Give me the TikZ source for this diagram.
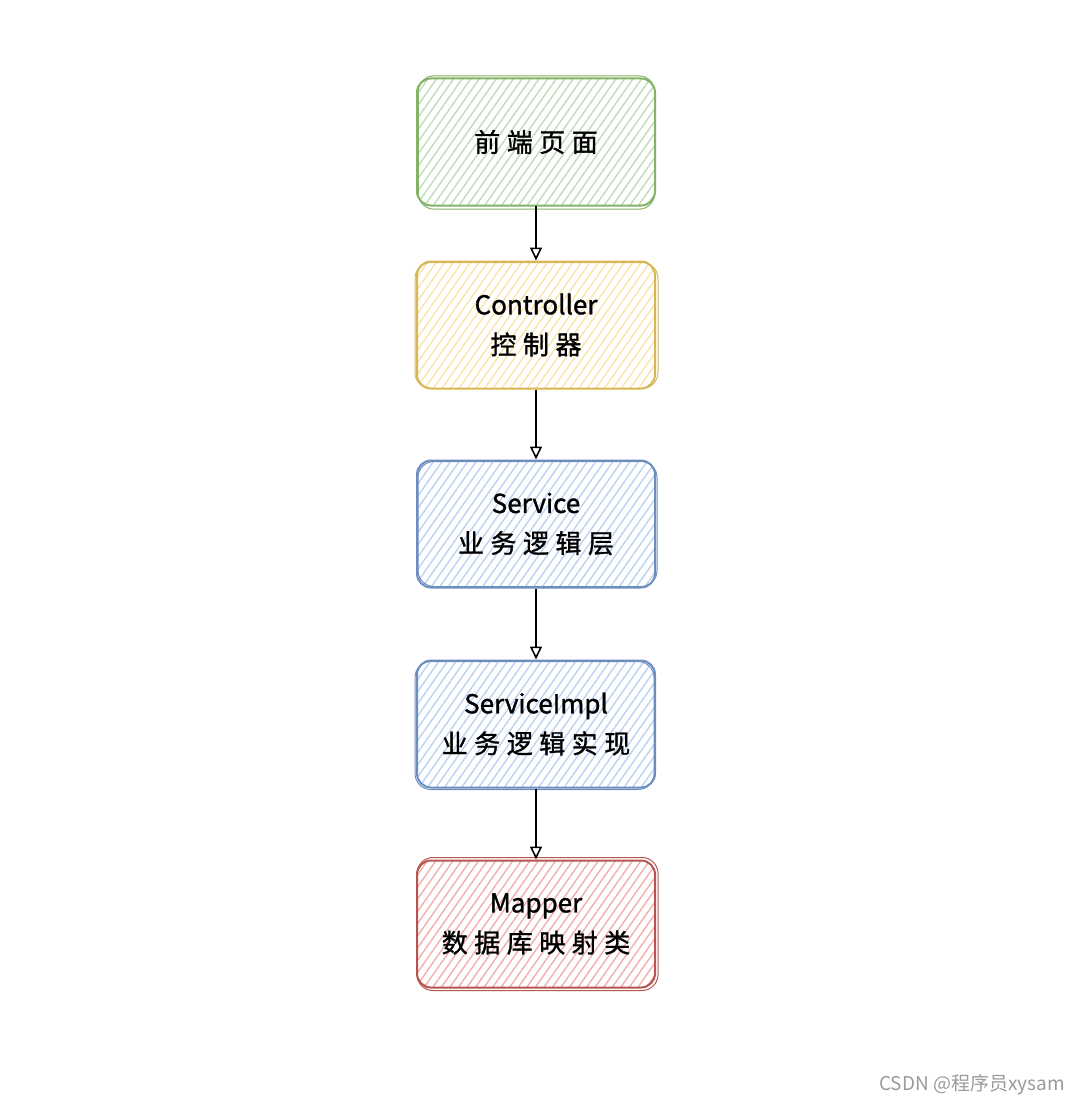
\documentclass[tikz,border=0pt]{standalone}
\usepackage{fontspec}
\setmainfont{Noto Sans CJK SC}
\newfontfamily\cjk[FakeBold=1.2]{Noto Sans CJK SC}
\newfontfamily\wmfont{Noto Sans CJK SC}
\usetikzlibrary{arrows.meta,patterns.meta}
\definecolor{gstroke}{HTML}{82B366}\definecolor{gfill}{HTML}{BEDDB8}
\definecolor{ystroke}{HTML}{D6B656}\definecolor{yfill}{HTML}{FBE3A8}
\definecolor{bstroke}{HTML}{6C8EBF}\definecolor{bfill}{HTML}{BAD3F4}
\definecolor{rstroke}{HTML}{B85450}\definecolor{rfill}{HTML}{F2AEAB}
\definecolor{wm}{HTML}{9A9A9A}
\newcommand{\gp}{\hspace{6.5pt}}
\tikzset{
  layerbox/.style={rectangle, rounded corners=14pt, minimum width=238pt, minimum height=127pt,
    line width=2pt, align=center, font=\cjk\fontsize{26}{40}\selectfont, inner sep=0pt},
  hatch/.style={pattern={Lines[angle=55,distance=7pt,line width=1.4pt]}, pattern color=#1},
  sketch/.style={line width=1pt, rounded corners=16pt},
  flow/.style={-{Triangle[open,length=13pt,width=12pt,line width=1.6pt]}, line width=2pt, black},
}
\begin{document}
\begin{tikzpicture}[x=1pt,y=-1pt]
\useasboundingbox (0,0) rectangle (1080,1105);
\node[layerbox, draw=gstroke, hatch=gfill] (front) at (536,142) {前\gp 端\gp 页\gp 面};
\node[layerbox, draw=ystroke, hatch=yfill] (ctrl) at (536,325) {Controller\\控\gp 制\gp 器};
\node[layerbox, draw=bstroke, hatch=bfill] (svc) at (536,524) {Service\\业\gp 务\gp 逻\gp 辑\gp 层};
\node[layerbox, draw=bstroke, hatch=bfill] (impl) at (536,724) {ServiceImpl\\业\gp 务\gp 逻\gp 辑\gp 实\gp 现};
\node[layerbox, draw=rstroke, hatch=rfill] (mapper) at (536,924) {Mapper\\数\gp 据\gp 库\gp 映\gp 射\gp 类};
\draw[sketch, gstroke] ([shift={(2,-2)}]front.north west) rectangle ([shift={(-1,3)}]front.south east);
\draw[sketch, ystroke] ([shift={(-1,2)}]ctrl.north west) rectangle ([shift={(2,-1)}]ctrl.south east);
\draw[sketch, bstroke] ([shift={(2,2)}]svc.north west) rectangle ([shift={(1,-2)}]svc.south east);
\draw[sketch, bstroke] ([shift={(-1,2)}]impl.north west) rectangle ([shift={(-2,1)}]impl.south east);
\draw[sketch, rstroke] ([shift={(1,-2)}]mapper.north west) rectangle ([shift={(2,2)}]mapper.south east);
\draw[flow] (front) -- (ctrl);
\draw[flow] (ctrl) -- (svc);
\draw[flow] (svc) -- (impl);
\draw[flow] (impl) -- (mapper);
\node[anchor=east, text=wm, font=\wmfont\fontsize{19}{21}\selectfont, inner sep=0pt] (mark) at (1065,1085) {CSDN @程序员xysam};
\end{tikzpicture}
\end{document}
